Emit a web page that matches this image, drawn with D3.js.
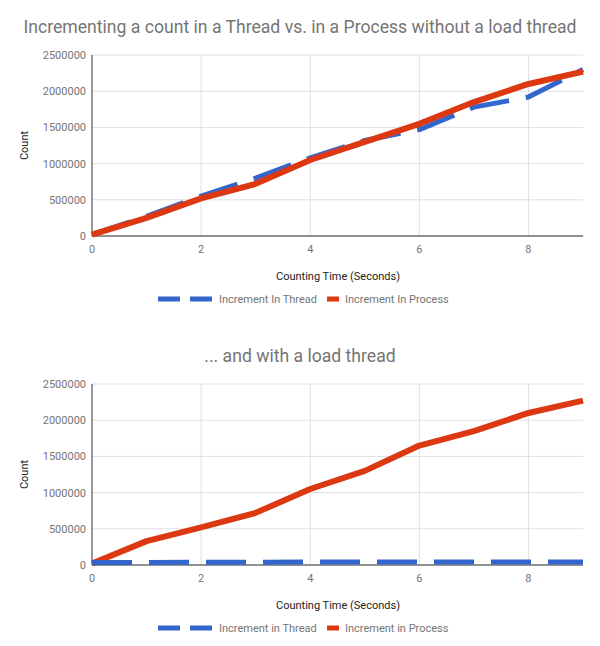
<!DOCTYPE html><html><head><meta charset="utf-8"><script src="https://cdn.jsdelivr.net/npm/d3@7"></script>
<style>body{margin:0;background:#fff;font-family:Roboto,Arial,sans-serif}</style></head><body><svg id="c" width="600" height="646"></svg>
<script>
const xs=[0,1,2,3,4,5,6,7,8,9];
const thread1=[20000,270000,550000,800000,1080000,1320000,1470000,1780000,1920000,2300000];
const process1=[20000,250000,520000,720000,1050000,1300000,1550000,1850000,2100000,2270000];
const thread2=[35000,36000,37000,38000,40000,40000,40000,40000,40000,40000];
const process2=[20000,330000,520000,720000,1050000,1300000,1650000,1850000,2100000,2270000];
const yTicks=[0,500000,1000000,1500000,2000000,2500000];
const xTicks=[0,2,4,6,8];
const svg=d3.select("#c");
function chart(o){
  const x=d3.scaleLinear().domain([0,9]).range([92,583]);
  const y=d3.scaleLinear().domain([0,2500000]).range([o.bot,o.top]);
  const g=svg.append("g");
  g.append("text").attr("x",300).attr("y",o.titleY).attr("text-anchor","middle").attr("font-size",17.6).attr("fill","#757575").text(o.title);
  yTicks.forEach(t=>{g.append("line").attr("x1",92).attr("x2",583).attr("y1",y(t)).attr("y2",y(t)).attr("stroke","#e0e0e0");
    g.append("text").attr("x",86).attr("y",y(t)+4).attr("text-anchor","end").attr("font-size",11).attr("fill","#757575").text(t);});
  xTicks.forEach(t=>{if(t>0)g.append("line").attr("x1",x(t)).attr("x2",x(t)).attr("y1",o.top).attr("y2",o.bot).attr("stroke","#e0e0e0");
    g.append("text").attr("x",x(t)).attr("y",o.bot+17).attr("text-anchor","middle").attr("font-size",11).attr("fill","#757575").text(t);});
  g.append("line").attr("x1",92).attr("x2",583).attr("y1",o.bot).attr("y2",o.bot).attr("stroke","#333");
  g.append("line").attr("x1",92).attr("x2",92).attr("y1",o.top).attr("y2",o.bot).attr("stroke","#333");
  g.append("text").attr("transform",`translate(28,${(o.top+o.bot)/2}) rotate(-90)`).attr("text-anchor","middle").attr("font-size",11).attr("fill","#222").text("Count");
  g.append("text").attr("x",338).attr("y",o.bot+44).attr("text-anchor","middle").attr("font-size",11).attr("fill","#222").text("Counting Time (Seconds)");
  const line=d3.line().x((d,i)=>x(xs[i])).y(d=>y(d));
  const draw=(data,col,w,dash)=>g.append("path").attr("d",line(data)).attr("fill","none").attr("stroke",col).attr("stroke-width",w).attr("stroke-linejoin","round").attr("stroke-dasharray",dash);
  if(o.threadTop){draw(o.p,"#dc3912",6,null);draw(o.t,"#3366cc",5,"40,17");}
  else{draw(o.t,"#3366cc",5,"40,17");draw(o.p,"#dc3912",6,null);}
  const ly=o.bot+63;
  g.append("line").attr("x1",158).attr("x2",212).attr("y1",ly).attr("y2",ly).attr("stroke","#3366cc").attr("stroke-width",5).attr("stroke-dasharray","22,10");
  g.append("text").attr("x",219).attr("y",ly+4).attr("font-size",11).attr("fill","#757575").text(o.l1);
  g.append("line").attr("x1",327).attr("x2",339).attr("y1",ly).attr("y2",ly).attr("stroke","#dc3912").attr("stroke-width",5);
  g.append("text").attr("x",345).attr("y",ly+4).attr("font-size",11).attr("fill","#757575").text(o.l2);
}
chart({title:"Incrementing a count in a Thread vs. in a Process without a load thread",titleY:33,top:55,bot:236,t:thread1,p:process1,threadTop:false,l1:"Increment In Thread",l2:"Increment In Process"});
chart({title:"... and with a load thread",titleY:362,top:384,bot:565,t:thread2,p:process2,threadTop:true,l1:"Increment in Thread",l2:"Increment in Process"});
</script></body></html>
